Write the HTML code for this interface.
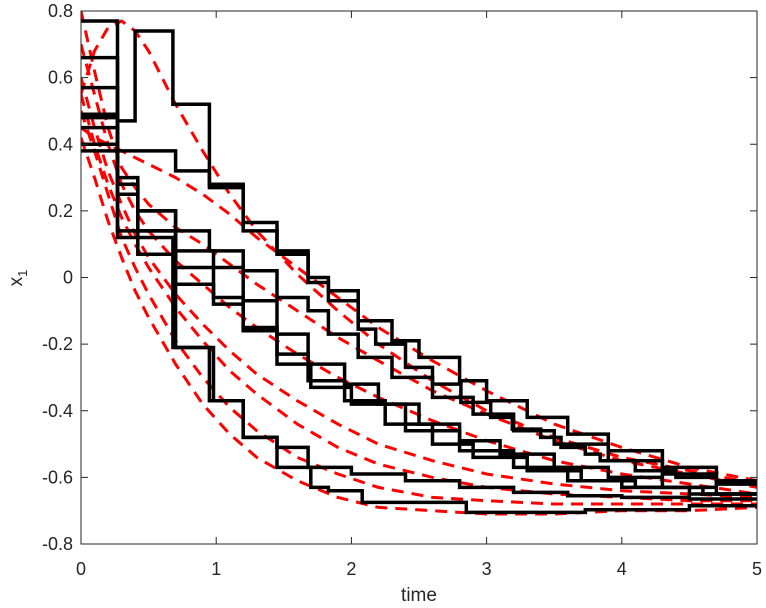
<!DOCTYPE html>
<html><head><meta charset="utf-8"><style>
html,body{margin:0;padding:0;background:#fff;}
svg{display:block;font-family:"Liberation Sans",Arial,sans-serif;}
</style></head><body>
<svg id="chart" width="766" height="608" viewBox="0 0 766 608">
<defs><clipPath id="clip"><rect x="81" y="11" width="676" height="533"/></clipPath></defs>
<rect x="0" y="0" width="766" height="608" fill="#fff"/>
<g id="redG" clip-path="url(#clip)"></g>
<g id="blackG" clip-path="url(#clip)"></g>
<g id="axes"></g>
<text x="419" y="601" text-anchor="middle" font-size="19" fill="#262626">time</text>
<text transform="translate(22,278) rotate(-90)" text-anchor="middle" font-size="19" fill="#262626">x<tspan font-size="13" dy="5">1</tspan></text>
</svg>
<script>
const xTicks=[0,1,2,3,4,5];
const yTicks=[0.8,0.6,0.4,0.2,0,-0.2,-0.4,-0.6,-0.8];
const redT=[0,0.1,0.2,0.3,0.4,0.5,0.7,0.9,1.1,1.3,1.6,1.9,2.2,2.6,3.0,3.5,4.0,4.5,5.0];
const red1=[0.55,0.68,0.75,0.77,0.74,0.68,0.52,0.38,0.25,0.14,0.01,-0.1,-0.2,-0.31,-0.40,-0.48,-0.54,-0.58,-0.62];
const red2=[0.45,0.42,0.40,0.38,0.36,0.34,0.30,0.25,0.19,0.12,0.03,-0.06,-0.15,-0.25,-0.34,-0.44,-0.51,-0.57,-0.61];
const red3=[0.8,0.62,0.45,0.33,0.27,0.22,0.15,0.10,0.04,-0.02,-0.10,-0.18,-0.25,-0.34,-0.41,-0.49,-0.55,-0.59,-0.63];
const red4=[0.7,0.55,0.40,0.28,0.20,0.14,0.05,-0.02,-0.09,-0.15,-0.23,-0.30,-0.36,-0.43,-0.49,-0.55,-0.59,-0.62,-0.65];
const red5=[0.6,0.45,0.32,0.22,0.13,0.06,-0.05,-0.14,-0.22,-0.29,-0.37,-0.44,-0.50,-0.55,-0.59,-0.62,-0.64,-0.65,-0.66];
const red6=[0.5,0.38,0.25,0.12,0.03,-0.05,-0.19,-0.30,-0.39,-0.46,-0.54,-0.59,-0.63,-0.66,-0.67,-0.68,-0.68,-0.68,-0.68];
const red7=[0.42,0.30,0.17,0.06,-0.04,-0.12,-0.26,-0.38,-0.47,-0.54,-0.61,-0.66,-0.69,-0.70,-0.71,-0.71,-0.70,-0.70,-0.69];
const red8=[0.55,0.40,0.28,0.18,0.10,0.03,-0.09,-0.19,-0.28,-0.35,-0.44,-0.51,-0.56,-0.60,-0.63,-0.65,-0.66,-0.67,-0.67];
const b1t=[0,0.27,0.40,0.68,0.95,1.20,1.45,1.68,1.83,2.05,2.18,2.40,2.60,2.81,3.03,3.19,3.40,3.55,3.73,3.84,4.1,4.4,4.7];
const b1v=[0.49,0.47,0.74,0.52,0.28,0.165,0.07,-0.015,-0.07,-0.155,-0.20,-0.27,-0.32,-0.375,-0.42,-0.455,-0.48,-0.51,-0.53,-0.55,-0.58,-0.60,-0.62];
const b2t=[0,0.70,0.95,1.20,1.45,1.68,1.83,2.05,2.3,2.5,2.8,3.0,3.3,3.6,3.9,4.3,4.7];
const b2v=[0.38,0.32,0.27,0.14,0.08,0.0,-0.04,-0.13,-0.19,-0.24,-0.31,-0.37,-0.42,-0.47,-0.52,-0.57,-0.61];
const b3t=[0,0.27,0.42,0.70,0.95,1.20,1.45,1.68,1.83,2.05,2.3,2.6,2.9,3.2,3.5,3.9,4.3,4.7];
const b3v=[0.77,0.30,0.20,0.14,0.08,0.02,-0.06,-0.10,-0.17,-0.24,-0.30,-0.36,-0.41,-0.46,-0.50,-0.55,-0.59,-0.62];
const b4t=[0,0.27,0.42,0.70,0.98,1.20,1.45,1.68,1.95,2.2,2.5,2.8,3.1,3.5,3.9,4.3,4.7];
const b4v=[0.66,0.28,0.14,0.08,0.03,-0.07,-0.17,-0.26,-0.32,-0.38,-0.44,-0.49,-0.53,-0.57,-0.60,-0.63,-0.65];
const b5t=[0,0.27,0.42,0.70,0.98,1.20,1.45,1.70,2.0,2.4,2.8,3.2,3.6,4.0,4.5];
const b5v=[0.57,0.14,0.14,-0.02,-0.08,-0.16,-0.26,-0.33,-0.38,-0.46,-0.52,-0.57,-0.61,-0.63,-0.65];
const b6t=[0,0.27,0.42,0.70,0.98,1.20,1.45,1.68,2.0,2.4,2.8,3.2,3.6,4.0,4.5];
const b6v=[0.48,0.12,0.07,-0.21,-0.37,-0.48,-0.51,-0.57,-0.59,-0.61,-0.63,-0.645,-0.655,-0.66,-0.665];
const b7t=[0,0.27,0.42,0.68,0.95,1.20,1.45,1.70,1.83,2.08,2.85,3.73,4.5];
const b7v=[0.40,0.28,0.12,-0.21,-0.37,-0.48,-0.57,-0.63,-0.64,-0.675,-0.705,-0.697,-0.685];
const b8t=[0,0.27,0.42,0.70,0.98,1.20,1.45,1.68,1.95,2.25,2.6,2.9,3.3,3.7,4.1,4.6];
const b8v=[0.45,0.25,0.20,0.03,-0.06,-0.15,-0.23,-0.31,-0.37,-0.44,-0.50,-0.54,-0.58,-0.61,-0.63,-0.65];

const X0=81,X1=757,Y0=544,Y1=11;
function sx(t){return X0+(t-0)/(5-0)*(X1-X0);}
function sy(v){return Y0-(v+0.8)/1.6*(Y0-Y1);}
const NS='http://www.w3.org/2000/svg';
function mk(tag,attrs,parent){const e=document.createElementNS(NS,tag);for(const k in attrs)e.setAttribute(k,attrs[k]);parent.appendChild(e);return e;}

const redG=document.getElementById('redG');
const reds=[red1,red2,red3,red4,red5,red6,red7,red8];
reds.forEach((vals,i)=>{
  const pts=vals.map((v,j)=>sx(redT[j]).toFixed(1)+','+sy(v).toFixed(1)).join(' ');
  const p=mk('polyline',{points:pts,fill:'none',stroke:'#ff0000','stroke-width':3,'stroke-dasharray':'12 8','stroke-linejoin':'round'},redG);
  
  
});

const blackG=document.getElementById('blackG');
const blacks=[[b1t,b1v],[b2t,b2v],[b3t,b3v],[b4t,b4v],[b5t,b5v],[b6t,b6v],[b7t,b7v],[b8t,b8v]];
blacks.forEach((s,i)=>{
  const ts=s[0],vs=s[1];let pts=[];
  for(let j=0;j<ts.length;j++){
    const tEnd=j+1<ts.length?ts[j+1]:5;
    pts.push(sx(ts[j]).toFixed(1)+','+sy(vs[j]).toFixed(1));
    pts.push(sx(tEnd).toFixed(1)+','+sy(vs[j]).toFixed(1));
  }
  const p=mk('polyline',{points:pts.join(' '),fill:'none',stroke:'#000','stroke-width':3.5,'stroke-linejoin':'miter'},blackG);
  
  
});

const ax=document.getElementById('axes');
const box=mk('rect',{x:X0,y:Y1,width:X1-X0,height:Y0-Y1,fill:'none',stroke:'#262626','stroke-width':1},ax);


xTicks.forEach(t=>{
  const x=sx(t);
  mk('line',{x1:x,y1:Y0,x2:x,y2:Y0-7,stroke:'#262626'},ax);
  mk('line',{x1:x,y1:Y1,x2:x,y2:Y1+7,stroke:'#262626'},ax);
  const tx=mk('text',{x:x,y:Y0+31,'text-anchor':'middle','font-size':18,fill:'#262626'},ax);
  tx.textContent=String(t);
  
  
});
yTicks.forEach(v=>{
  const y=sy(v);
  mk('line',{x1:X0,y1:y,x2:X0+7,y2:y,stroke:'#262626'},ax);
  mk('line',{x1:X1,y1:y,x2:X1-7,y2:y,stroke:'#262626'},ax);
  const tx=mk('text',{x:X0-8,y:y+6,'text-anchor':'end','font-size':18,fill:'#262626'},ax);
  tx.textContent=String(v);
  
  
});
</script>
</body></html>
